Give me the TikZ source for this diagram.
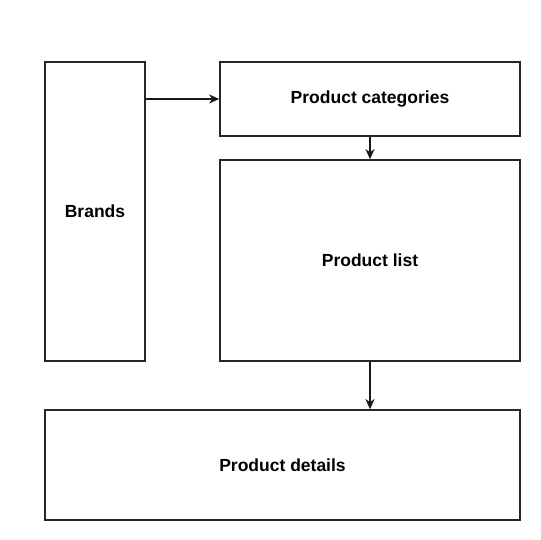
\documentclass[tikz,border=0pt]{standalone}
\usepackage{fontspec}
\setmainfont{Liberation Sans}
\usetikzlibrary{arrows.meta}
\begin{document}
\begin{tikzpicture}[x=1pt,y=-1pt,
  box/.style={draw=black!85,line width=1.6pt,fill=white,inner sep=0pt,font=\fontsize{17.5}{20}\selectfont\bfseries},
  conn/.style={draw=black!90,line width=1.8pt,-{Stealth[length=10pt,width=9pt,inset=3pt]}}]
\useasboundingbox[fill=white] (0,0) rectangle (540,540);
\node[box,minimum width=100pt,minimum height=299pt] (brands) at (95,211.5) {Brands};
\node[box,minimum width=300pt,minimum height=74pt] (cat) at (370,99) {Product categories};
\node[box,minimum width=300pt,minimum height=201pt] (list) at (370,260.5) {Product list};
\node[box,minimum width=475pt,minimum height=110pt] (det) at (282.5,465) {Product details};
\draw[conn] (brands.east |- cat.west) -- (cat.west);
\draw[conn] (cat.south) -- (list.north);
\draw[conn] (list.south) -- (list.south |- det.north);
\end{tikzpicture}
\end{document}
